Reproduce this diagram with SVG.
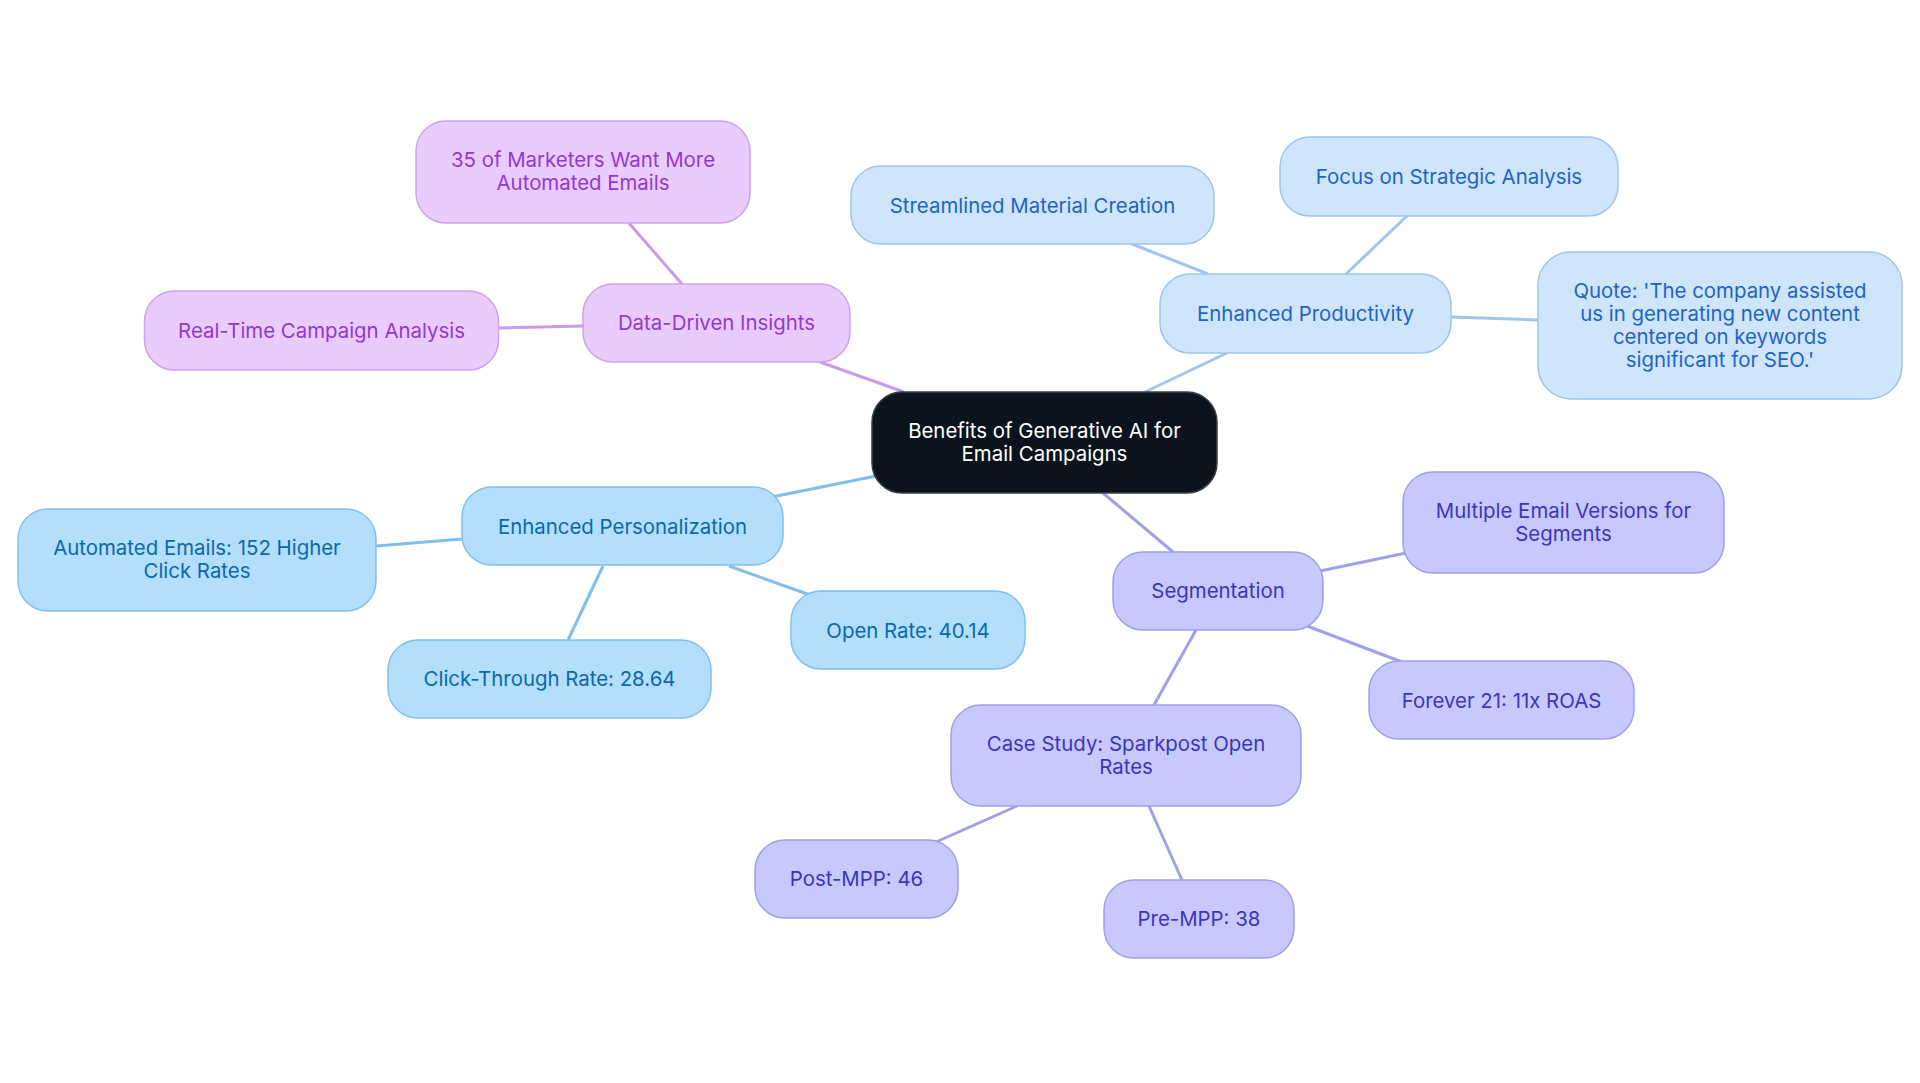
<svg xmlns="http://www.w3.org/2000/svg" width="1920" height="1083" viewBox="0 0 1920 1083">
<style>
text{font-family:Inter,"Noto Sans","Liberation Sans",sans-serif;font-size:20.4px;text-anchor:middle;dominant-baseline:central}
.pu rect{fill:#EACBFE;stroke:#CDA2EC;stroke-width:1.5}
.pu text{fill:#9239D0}
.lb rect{fill:#CFE5FC;stroke:#9DC5EE;stroke-width:1.5}
.lb text{fill:#1E64C4}
.sb rect{fill:#B3DEFC;stroke:#80C1EE;stroke-width:1.5}
.sb text{fill:#0A69AC}
.pw rect{fill:#C7C9FD;stroke:#9DA0E8;stroke-width:1.5}
.pw text{fill:#3A36BE}
.c rect{fill:#0B141C;stroke:#3A4048;stroke-width:1.5}
.c text{fill:#FFFFFF}
#edges line{stroke-width:3;fill:none}
.epu{stroke:#C99BE8}
.elb{stroke:#A0C6EC}
.esb{stroke:#7FBFEA}
.epw{stroke:#9EA1E8}
</style>
<rect width="1920" height="1083" fill="#FFFFFF"/>
<g id="edges">
<line class="epu" x1="904" y1="392" x2="820" y2="362"/>
<line class="epu" x1="682" y1="284" x2="628" y2="222"/>
<line class="epu" x1="583" y1="326" x2="498" y2="328"/>
<line class="elb" x1="1145" y1="392" x2="1227" y2="353"/>
<line class="elb" x1="1208" y1="274" x2="1132" y2="244"/>
<line class="elb" x1="1346" y1="274" x2="1408" y2="215"/>
<line class="elb" x1="1451" y1="317" x2="1538" y2="320"/>
<line class="esb" x1="876" y1="476" x2="772" y2="497"/>
<line class="esb" x1="462" y1="539" x2="376" y2="546"/>
<line class="esb" x1="603" y1="566" x2="568" y2="640"/>
<line class="esb" x1="729" y1="566" x2="810" y2="595"/>
<line class="epw" x1="1103" y1="493" x2="1173" y2="552"/>
<line class="epw" x1="1320" y1="571" x2="1406" y2="553"/>
<line class="epw" x1="1307" y1="626" x2="1402" y2="662"/>
<line class="epw" x1="1196" y1="630" x2="1154" y2="705"/>
<line class="epw" x1="1017" y1="806" x2="936" y2="842"/>
<line class="epw" x1="1149" y1="806" x2="1182" y2="880"/>
</g>
<g id="center" class="c">
<rect x="872" y="392" width="345" height="101" rx="30"/>
<text x="1044.5" y="430">Benefits of Generative AI for</text>
<text x="1044.5" y="453">Email Campaigns</text>
</g>
<g id="data-driven" class="pu">
<rect x="583" y="284" width="267" height="78" rx="30"/>
<text x="716.5" y="322">Data-Driven Insights</text>
</g>
<g id="marketers" class="pu">
<rect x="416" y="121" width="334" height="102" rx="30"/>
<text x="583" y="159">35 of Marketers Want More</text>
<text x="583" y="182">Automated Emails</text>
</g>
<g id="realtime" class="pu">
<rect x="144.5" y="291" width="354" height="79" rx="30"/>
<text x="321.5" y="330">Real-Time Campaign Analysis</text>
</g>
<g id="productivity" class="lb">
<rect x="1160" y="274" width="291" height="79" rx="30"/>
<text x="1305.5" y="313">Enhanced Productivity</text>
</g>
<g id="streamlined" class="lb">
<rect x="851" y="166" width="363" height="78" rx="30"/>
<text x="1032.5" y="205">Streamlined Material Creation</text>
</g>
<g id="focus" class="lb">
<rect x="1280" y="137" width="338" height="79" rx="30"/>
<text x="1449" y="176">Focus on Strategic Analysis</text>
</g>
<g id="quote" class="lb">
<rect x="1538" y="252" width="364" height="147" rx="33"/>
<text x="1720" y="290">Quote: 'The company assisted</text>
<text x="1720" y="313">us in generating new content</text>
<text x="1720" y="336">centered on keywords</text>
<text x="1720" y="359">significant for SEO.'</text>
</g>
<g id="personalization" class="sb">
<rect x="462" y="487" width="321" height="78" rx="30"/>
<text x="622.5" y="526">Enhanced Personalization</text>
</g>
<g id="automated" class="sb">
<rect x="18" y="509" width="358" height="102" rx="30"/>
<text x="197" y="547">Automated Emails: 152 Higher</text>
<text x="197" y="570">Click Rates</text>
</g>
<g id="clickthrough" class="sb">
<rect x="388" y="640" width="323" height="78" rx="30"/>
<text x="549.5" y="678">Click-Through Rate: 28.64</text>
</g>
<g id="openrate" class="sb">
<rect x="791" y="591" width="234" height="78" rx="30"/>
<text x="908" y="630">Open Rate: 40.14</text>
</g>
<g id="segmentation" class="pw">
<rect x="1113" y="552" width="210" height="78" rx="30"/>
<text x="1218" y="590">Segmentation</text>
</g>
<g id="multiple" class="pw">
<rect x="1403" y="472" width="321" height="101" rx="30"/>
<text x="1563.5" y="510">Multiple Email Versions for</text>
<text x="1563.5" y="533">Segments</text>
</g>
<g id="forever" class="pw">
<rect x="1369" y="661" width="265" height="78" rx="30"/>
<text x="1501.5" y="700">Forever 21: 11x ROAS</text>
</g>
<g id="casestudy" class="pw">
<rect x="951" y="705" width="350" height="101" rx="30"/>
<text x="1126" y="743">Case Study: Sparkpost Open</text>
<text x="1126" y="766">Rates</text>
</g>
<g id="postmpp" class="pw">
<rect x="755" y="840" width="203" height="78" rx="30"/>
<text x="856.5" y="878">Post-MPP: 46</text>
</g>
<g id="premmp" class="pw">
<rect x="1104" y="880" width="190" height="78" rx="30"/>
<text x="1199" y="918">Pre-MPP: 38</text>
</g>
</svg>
